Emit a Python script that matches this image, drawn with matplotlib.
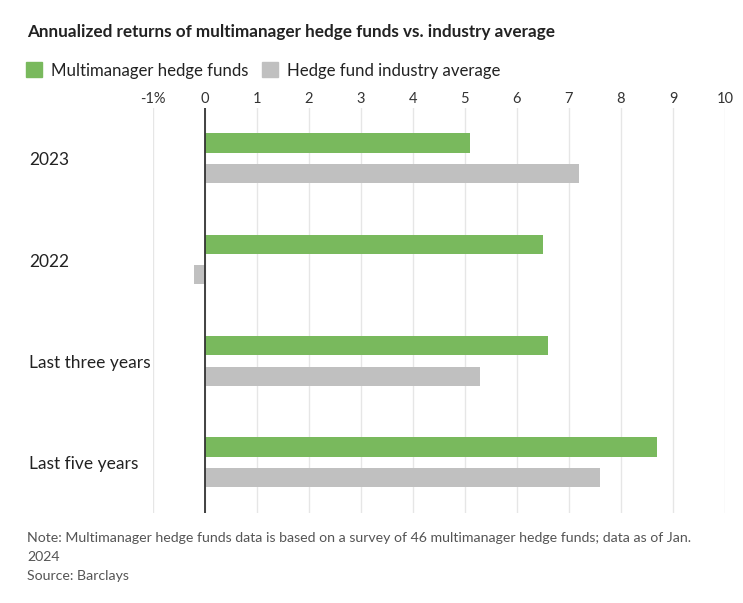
import matplotlib
matplotlib.use("Agg")
import matplotlib.pyplot as plt
from matplotlib.patches import Patch
import matplotlib.transforms as mtransforms
import numpy as np

plt.rcParams['font.family'] = ['Lato', 'DejaVu Sans']

categories = ["2023", "2022", "Last three years", "Last five years"]
multimanager = [5.1, 6.5, 6.6, 8.7]
industry = [7.2, -0.2, 5.3, 7.6]
tick_values = [-1, 0, 1, 2, 3, 4, 5, 6, 7, 8, 9, 10]
tick_labels = ["-1%", "0", "1", "2", "3", "4", "5", "6", "7", "8", "9", "10"]
series_names = ["Multimanager hedge funds", "Hedge fund industry average"]

GREEN = "#79b95d"
GRAY = "#c0c0c0"
TEXT = "#222222"

W, H = 743, 603
fig = plt.figure(figsize=(W / 100, H / 100), dpi=100)
ax = fig.add_axes([152.7 / W, (H - 513) / H, (725 - 152.7) / W, (513 - 107.5) / H])

y = np.arange(len(categories)) + 0.5
bh = 0.19
off = 0.15
ax.barh(y - off, multimanager, height=bh, color=GREEN, zorder=3)
ax.barh(y + off, industry, height=bh, color=GRAY, zorder=3)

ax.set_xlim(-1, 10)
ax.set_ylim(len(categories), 0)
ax.axvline(0, color="#333333", lw=1.3, zorder=4)
ax.set_xticks(tick_values)
ax.set_xticklabels(tick_labels)
ax.xaxis.tick_top()
ax.tick_params(axis="x", length=0, pad=1.2, labelsize=10.5, labelcolor="#333333")
ax.set_yticks([])
ax.grid(axis="x", color="#e6e6e6", lw=1, zorder=0)
for s in ax.spines.values():
    s.set_visible(False)

trans = mtransforms.blended_transform_factory(fig.transFigure, ax.transData)
for yi, c in zip(y, categories):
    ax.text(29 / W, yi + 0.02, c, transform=trans, ha="left", va="center",
            fontsize=12.5, color=TEXT)

fig.text(27 / W, 1 - 32 / H, "Annualized returns of multimanager hedge funds vs. industry average",
         ha="left", va="center", fontsize=12.3, fontweight="bold", color=TEXT)

handles = [Patch(color=GREEN), Patch(color=GRAY)]
fig.legend(handles, series_names, loc="center left", bbox_to_anchor=(21 / W, 1 - 70.5 / H),
           ncol=2, frameon=False, handlelength=0.95, handleheight=0.95,
           handletextpad=0.55, columnspacing=0.8, fontsize=12.1, labelcolor=TEXT,
           borderaxespad=0, borderpad=0.3)

note = ("Note: Multimanager hedge funds data is based on a survey of 46 multimanager hedge funds; data as of Jan.\n"
        "2024\nSource: Barclays")
fig.text(27 / W, 1 - 532 / H, note, ha="left", va="top", fontsize=10.2,
         color="#555555", linespacing=1.72)

fig.savefig("out.png", dpi=100)
